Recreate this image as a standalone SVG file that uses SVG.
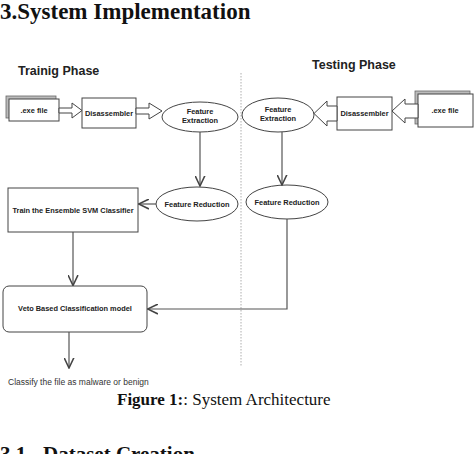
<svg xmlns="http://www.w3.org/2000/svg" width="474" height="454" viewBox="0 0 474 454">
<defs>
<style>
.box{fill:#fff;stroke:#444;stroke-width:1}
.lbl{font-family:"Liberation Sans",Arial,sans-serif;font-weight:bold;font-size:7.4px;fill:#222;text-anchor:middle}
.con{fill:none;stroke:#555;stroke-width:1.2}
.hol{fill:#fff;stroke:#444;stroke-width:1}
.ph{font-family:"Liberation Sans",Arial,sans-serif;font-weight:bold;font-size:12.5px;fill:#222}
.ser{font-family:"Liberation Serif","Times New Roman",serif;fill:#111}
</style>
<marker id="v" viewBox="0 0 10 10" refX="9.5" refY="5" markerWidth="11" markerHeight="11" markerUnits="userSpaceOnUse" orient="auto">
<path d="M0,0.5 L9.5,5 L0,9.5" fill="none" stroke="#444" stroke-width="1.4"/>
</marker>
</defs>
<rect width="474" height="454" fill="#fff"/>
<text class="ser" x="0" y="19" font-size="23" font-weight="bold">3.System Implementation</text>
<text class="ph" x="18" y="75">Trainig Phase</text>
<text class="ph" x="312" y="69">Testing Phase</text>
<line x1="241" y1="73" x2="241" y2="366" stroke="#999" stroke-width="0.8" stroke-dasharray="1.5,1.5"/>

<g id="exe-left">
<rect x="6" y="96" width="50" height="22" fill="#bbb" stroke="#666" stroke-width="0.8"/>
<rect x="9" y="99" width="50" height="22" class="box"/>
<text class="lbl" x="34" y="113">.exe file</text>
</g>
<g id="dis-left">
<rect x="82" y="98" width="54" height="30" class="box"/>
<text class="lbl" x="109" y="116">Disassembler</text>
</g>
<g id="fe-left">
<ellipse cx="200" cy="117" rx="38" ry="15" class="box"/>
<text class="lbl" x="200" y="114">Feature</text>
<text class="lbl" x="200" y="122.5">Extraction</text>
</g>
<g id="fr-left">
<ellipse cx="197" cy="204" rx="41" ry="17" class="box"/>
<text class="lbl" x="197" y="207">Feature Reduction</text>
</g>
<g id="train">
<rect x="8" y="188" width="130" height="44" class="box"/>
<text class="lbl" x="73" y="213">Train the Ensemble SVM Classifier</text>
</g>
<g id="veto">
<rect x="3" y="286" width="144" height="46" rx="6" class="box"/>
<text class="lbl" x="75" y="311">Veto Based Classification model</text>
</g>

<g id="exe-right">
<rect x="415" y="91" width="55" height="33" fill="#bbb" stroke="#666" stroke-width="0.8"/>
<rect x="418" y="94" width="55" height="33" class="box"/>
<text class="lbl" x="445" y="113">.exe file</text>
</g>
<g id="dis-right">
<rect x="337" y="97" width="55" height="33" class="box"/>
<text class="lbl" x="364.5" y="116">Disassembler</text>
</g>
<g id="fe-right">
<ellipse cx="278" cy="115" rx="36" ry="17" class="box"/>
<text class="lbl" x="278" y="112">Feature</text>
<text class="lbl" x="278" y="120.5">Extraction</text>
</g>
<g id="fr-right">
<ellipse cx="287" cy="202" rx="41" ry="17" class="box"/>
<text class="lbl" x="287" y="205">Feature Reduction</text>
</g>

<g id="connectors">
<path class="hol" d="M59,108 L72,108 L72,103 L82,110.5 L72,118 L72,113 L59,113 Z"/>
<path class="hol" d="M136,108 L149,108 L149,103 L162,111 L149,119 L149,114 L136,114 Z"/>
<path class="hol" d="M337,106 L327,106 L327,101 L314,113.5 L327,126 L327,121 L337,121 Z"/>
<path class="hol" d="M418,104 L405,104 L405,99 L392,111 L405,123 L405,118 L418,118 Z"/>
<line class="con" x1="200" y1="132" x2="200" y2="186" marker-end="url(#v)"/>
<line class="con" x1="156" y1="204" x2="138.5" y2="204" marker-end="url(#v)"/>
<line class="con" x1="73" y1="232" x2="73" y2="285.5" marker-end="url(#v)"/>
<line class="con" x1="69" y1="332" x2="69" y2="368" marker-end="url(#v)"/>
<line class="con" x1="282" y1="132" x2="282" y2="185" marker-end="url(#v)"/>
<path class="con" d="M287,219 L287,309 L147.5,309" marker-end="url(#v)"/>
</g>

<text x="8" y="385" font-family="Liberation Sans,Arial,sans-serif" font-size="8.5" fill="#333">Classify the file as malware or benign</text>
<text class="ser" x="117" y="405" font-size="17"><tspan font-weight="bold">Figure 1:</tspan>: System Architecture</text>
<text class="ser" x="0" y="461" font-size="21" font-weight="bold">3.1<tspan x="43">Dataset Creation</tspan></text>
</svg>
